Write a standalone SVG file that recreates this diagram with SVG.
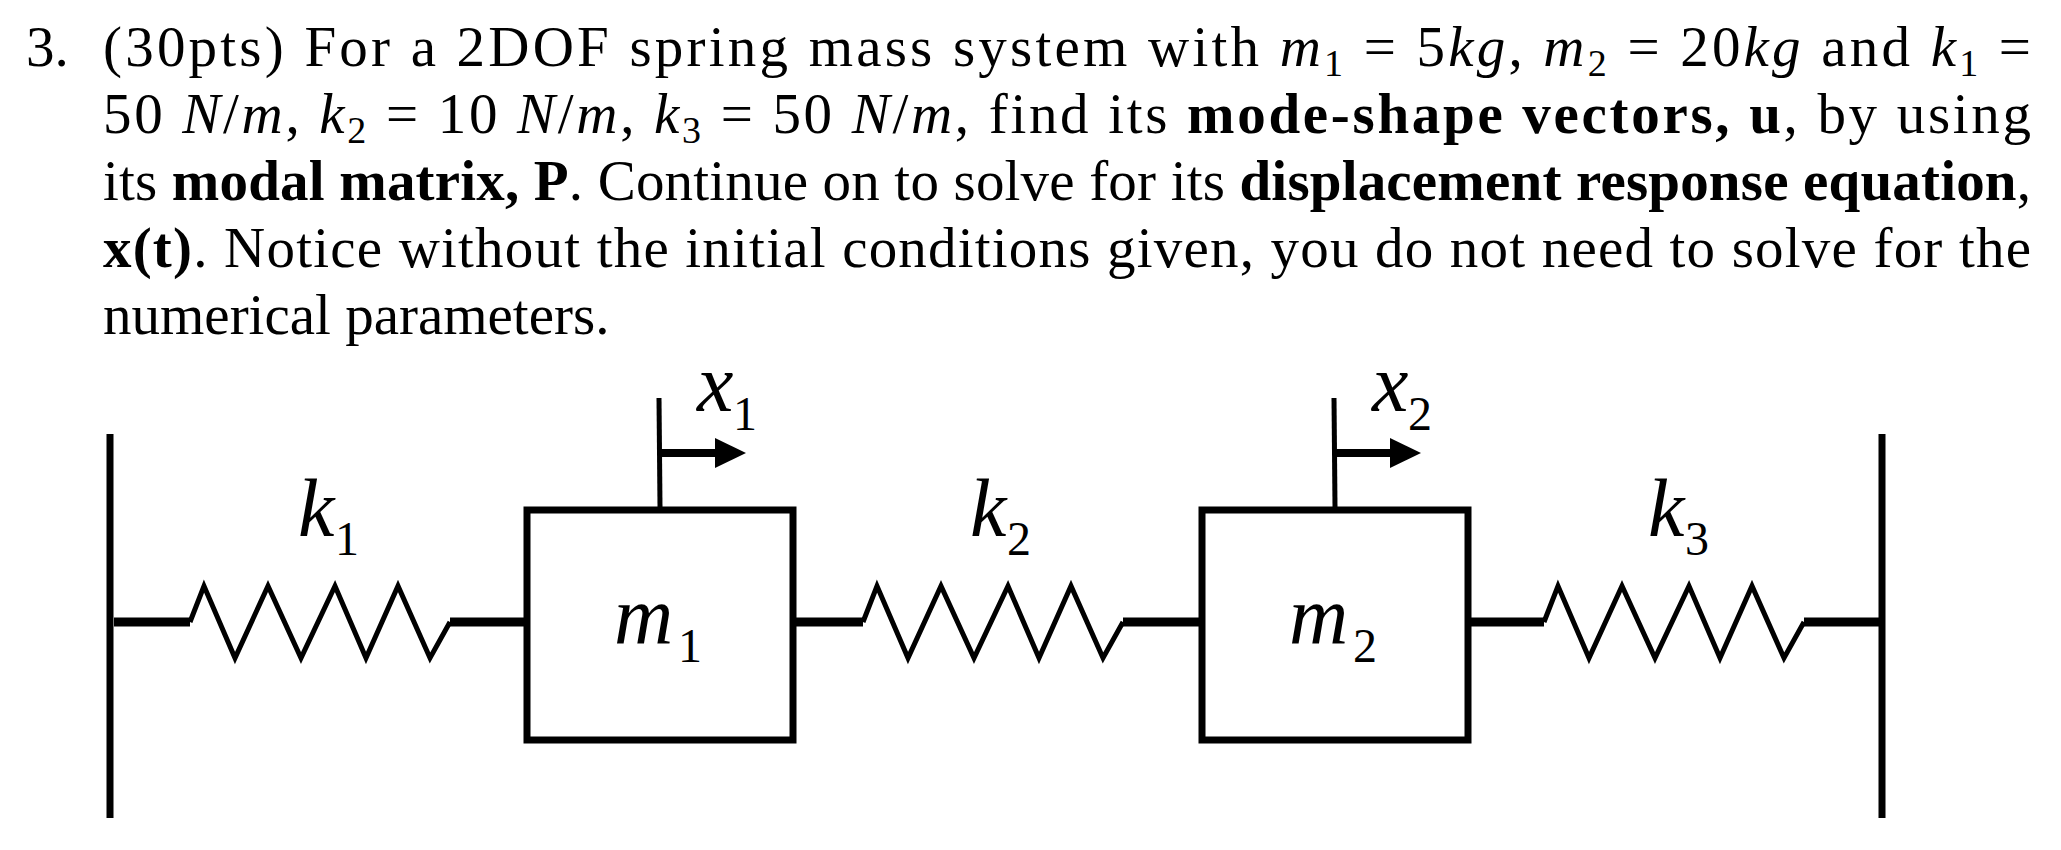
<svg xmlns="http://www.w3.org/2000/svg" width="2061" height="850" viewBox="0 0 2061 850">
<style>
.t{font-family:"Liberation Serif","Times New Roman",serif;font-size:57px;fill:#000}
.i{font-style:italic}
.b{font-weight:bold}
.s{font-size:38px}
.m{font-family:"Liberation Serif",serif;font-style:italic;font-size:82px;fill:#000}
.ms{font-family:"Liberation Serif",serif;font-size:48px;fill:#000}
.lead{stroke:#000;stroke-width:9;fill:none}
.zz{stroke:#000;stroke-width:5;fill:none;stroke-linejoin:miter}
.wall{stroke:#000;stroke-width:7}
.box{stroke:#000;stroke-width:7;fill:#fff}
</style>
<rect width="2061" height="850" fill="#fff"/>
<g id="text">
<text class="t" x="26" y="66">3.</text>
<text class="t" x="103" y="66" textLength="1928" lengthAdjust="spacing">(30pts) For a 2DOF spring mass system with <tspan class="i">m</tspan><tspan class="s" dy="10">1</tspan><tspan dy="-10"> = 5</tspan><tspan class="i">kg</tspan>, <tspan class="i">m</tspan><tspan class="s" dy="10">2</tspan><tspan dy="-10"> = 20</tspan><tspan class="i">kg</tspan> and <tspan class="i">k</tspan><tspan class="s" dy="10">1</tspan><tspan dy="-10"> =</tspan></text>
<text class="t" x="103" y="133" textLength="1928" lengthAdjust="spacing">50 <tspan class="i">N</tspan>/<tspan class="i">m</tspan>, <tspan class="i">k</tspan><tspan class="s" dy="10">2</tspan><tspan dy="-10"> = 10 </tspan><tspan class="i">N</tspan>/<tspan class="i">m</tspan>, <tspan class="i">k</tspan><tspan class="s" dy="10">3</tspan><tspan dy="-10"> = 50 </tspan><tspan class="i">N</tspan>/<tspan class="i">m</tspan>, find its <tspan class="b">mode-shape vectors, u</tspan>, by using</text>
<text class="t" x="103" y="200" textLength="1928" lengthAdjust="spacing">its <tspan class="b">modal matrix, P</tspan>.  Continue on to solve for its <tspan class="b">displacement response equation</tspan>,</text>
<text class="t" x="103" y="267" textLength="1928" lengthAdjust="spacing"><tspan class="b">x(t)</tspan>.  Notice without the initial conditions given, you do not need to solve for the</text>
<text class="t" x="103" y="334">numerical parameters.</text>
</g>
<g id="walls">
<line class="wall" x1="110" y1="434" x2="110" y2="818"/>
<line class="wall" x1="1882" y1="434" x2="1882" y2="818"/>
</g>
<g id="connectors">
<g id="spring1">
<polyline class="lead" points="114,622 190,622"/>
<polyline class="zz" points="190,622 204,586 235,658 268,586 301,658 335,586 366,658 398,586 430,658 450,622"/>
<polyline class="lead" points="450,622 524,622"/>
</g>
<g id="spring2">
<polyline class="lead" points="796,622 863,622"/>
<polyline class="zz" points="863,622 877,586 908,658 941,586 974,658 1008,586 1039,658 1071,586 1103,658 1123,622"/>
<polyline class="lead" points="1123,622 1199,622"/>
</g>
<g id="spring3">
<polyline class="lead" points="1467,622 1544,622"/>
<polyline class="zz" points="1544,622 1558,586 1589,658 1622,586 1655,658 1689,586 1720,658 1752,586 1784,658 1804,622"/>
<polyline class="lead" points="1804,622 1880,622"/>
</g>
</g>
<g id="mass1">
<rect class="box" x="527" y="510" width="266" height="230"/>
<line stroke="#000" stroke-width="5" x1="659" y1="398" x2="660" y2="507"/>
<line stroke="#000" stroke-width="8" x1="660" y1="453" x2="718" y2="453"/>
<polygon points="715,438 746,453 715,468"/>
<text class="m" x="614" y="643">m</text><text class="ms" x="678" y="662">1</text>
<text class="m" x="697" y="411">x</text><text class="ms" x="733" y="430">1</text>
<text class="m" x="298" y="536">k</text><text class="ms" x="335" y="555">1</text>
</g>
<g id="mass2">
<rect class="box" x="1202" y="510" width="266" height="230"/>
<line stroke="#000" stroke-width="5" x1="1334" y1="398" x2="1335" y2="507"/>
<line stroke="#000" stroke-width="8" x1="1335" y1="453" x2="1393" y2="453"/>
<polygon points="1390,438 1421,453 1390,468"/>
<text class="m" x="1289" y="643">m</text><text class="ms" x="1353" y="662">2</text>
<text class="m" x="1372" y="411">x</text><text class="ms" x="1408" y="430">2</text>
<text class="m" x="970" y="536">k</text><text class="ms" x="1007" y="555">2</text>
<text class="m" x="1648" y="536">k</text><text class="ms" x="1685" y="555">3</text>
</g>
</svg>
